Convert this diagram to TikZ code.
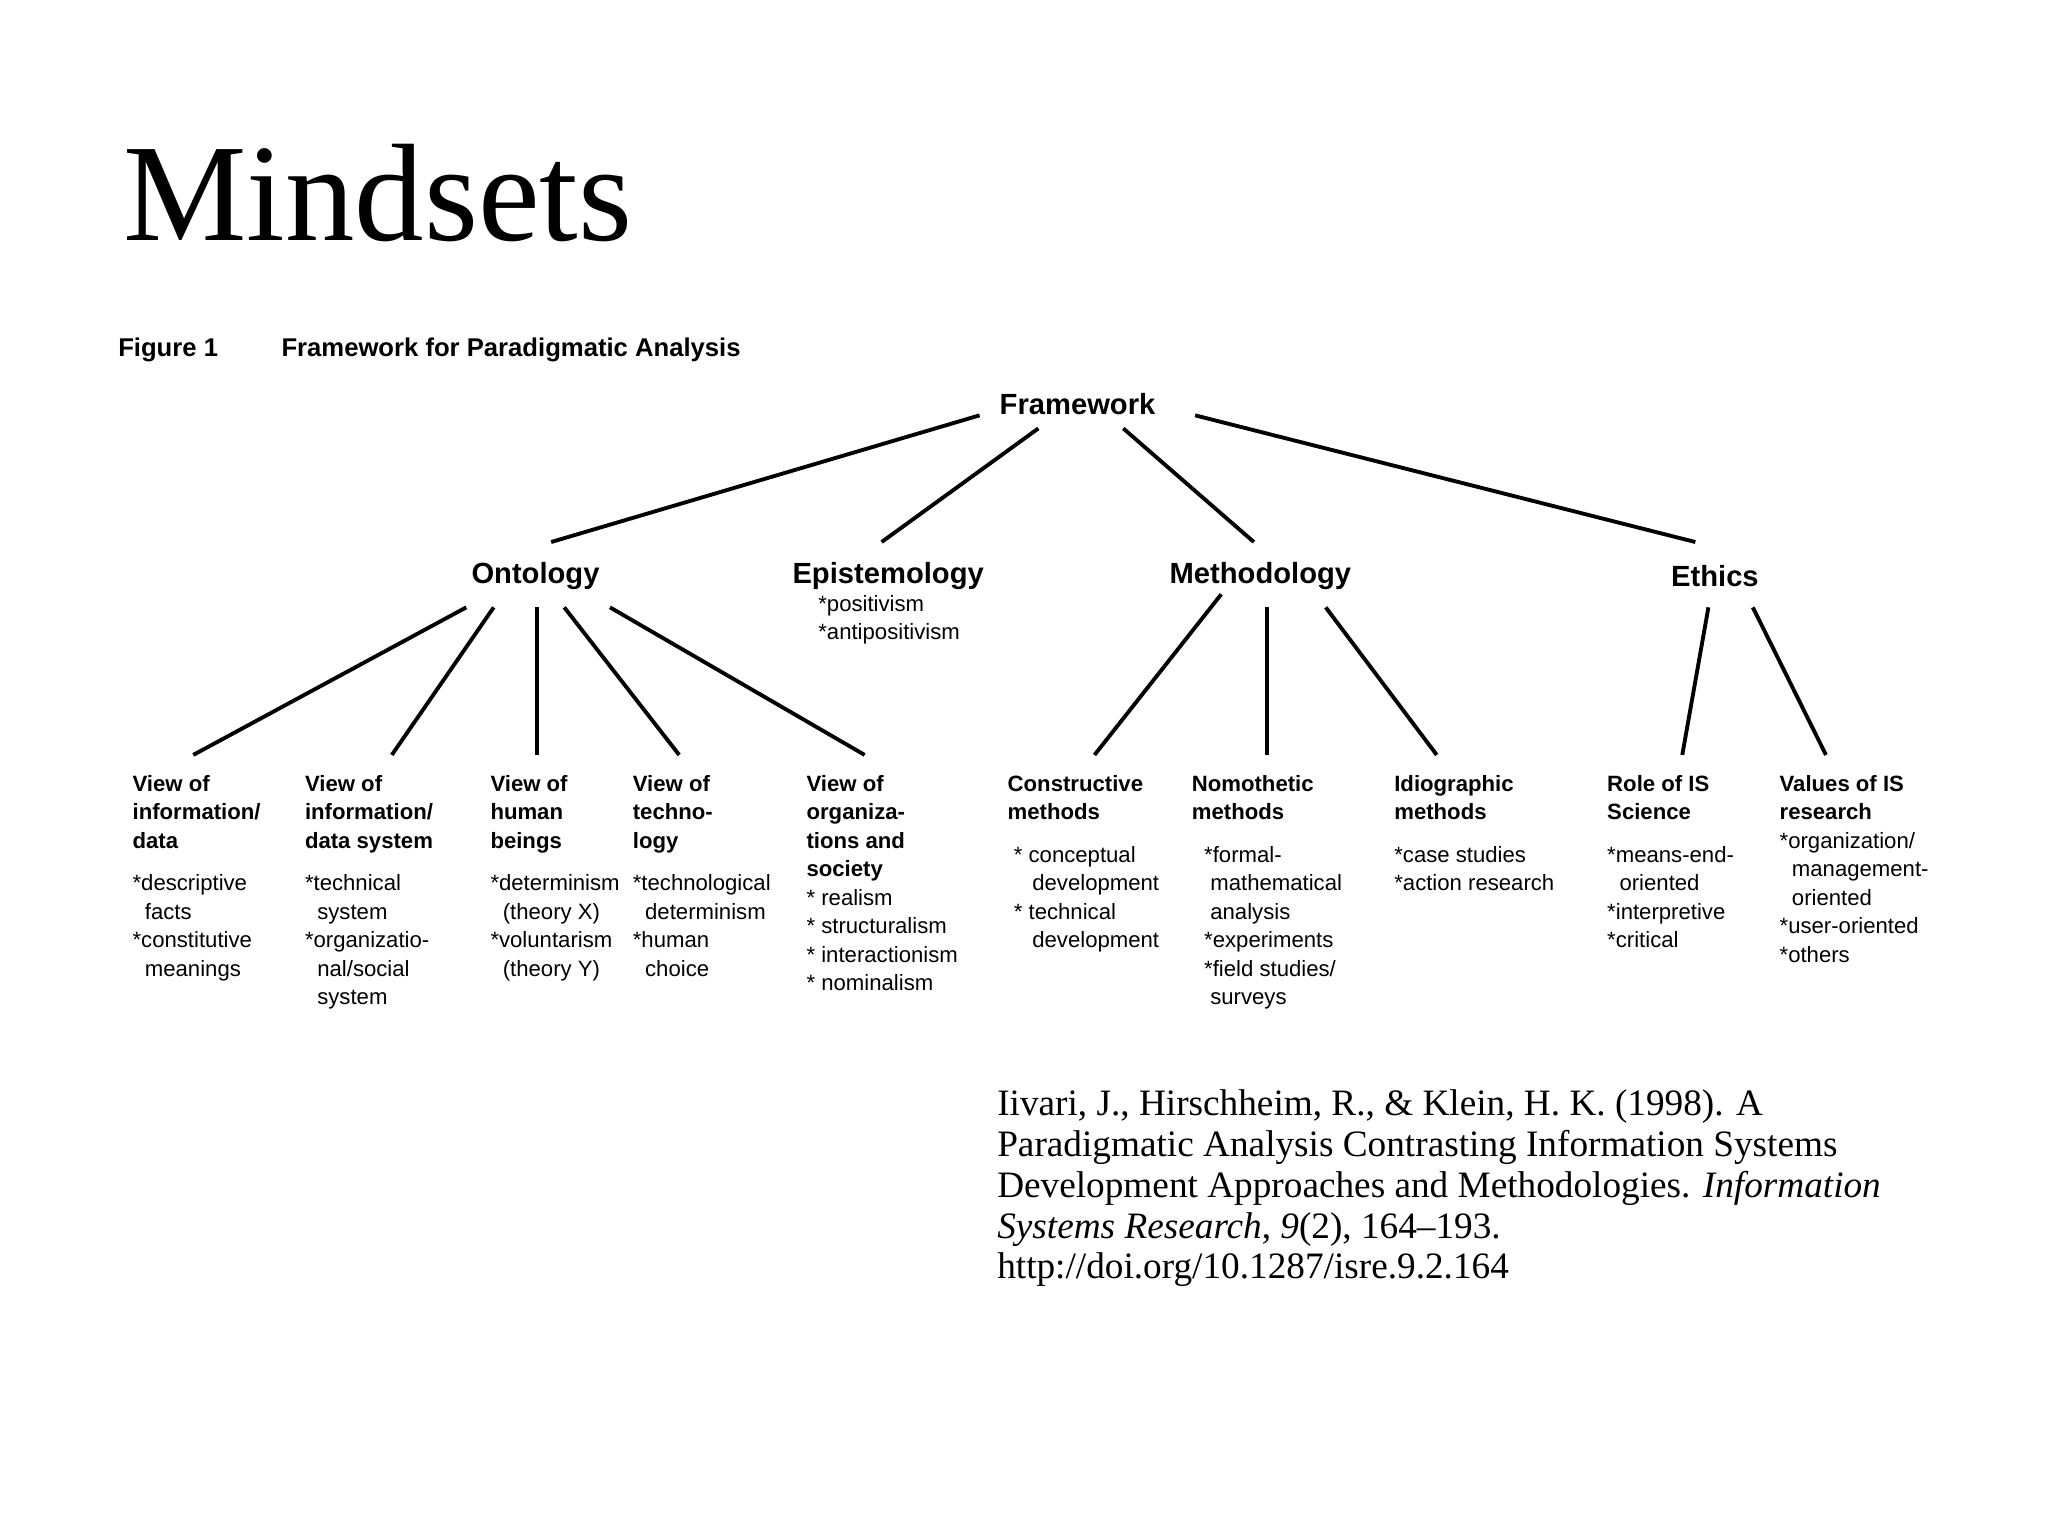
\documentclass[tikz,border=0pt]{standalone}
\usepackage{fontspec}
\setmainfont{Liberation Serif}
\newfontfamily\figsans{Liberation Sans}
\begin{document}
\begin{tikzpicture}[x=0.01306cm,y=-0.01306cm,
  conn/.style={line width=1.1pt},
  hd/.style={font=\figsans\bfseries\fontsize{8.3}{10}\selectfont,inner sep=0pt},
  leaf/.style={anchor=north west,align=left,inner sep=0pt,font=\figsans\fontsize{6.3}{8.1}\selectfont}]
\useasboundingbox[fill=white] (0,0) rectangle (1568,1176);
\node[anchor=west,inner sep=0pt,font=\fontsize{39.5}{42}\selectfont] (title) at (94,148) {Mindsets};
\node[anchor=west,inner sep=0pt,font=\figsans\bfseries\fontsize{7.3}{9}\selectfont] (fig) at (90,268) {Figure 1};
\node[anchor=west,inner sep=0pt,font=\figsans\bfseries\fontsize{7.3}{9}\selectfont] (figt) at (215,268) {Framework for Paradigmatic Analysis};
\node[hd] (fw) at (825,309) {Framework};
\node[hd] (ont) at (410,441) {Ontology};
\node[hd] (epi) at (680,441) {Epistemology};
\node[leaf] (epii) at (626,455) {*positivism\\*antipositivism};
\node[hd] (met) at (965,441) {Methodology};
\node[hd] (eth) at (1313,441) {Ethics};
% coordinates
\coordinate (f1) at (750,318); \coordinate (f2) at (795,328); \coordinate (f3) at (860,328); \coordinate (f4) at (915,318);
\coordinate (o0) at (422,415); \coordinate (e0) at (675,415); \coordinate (m0) at (960,415); \coordinate (t0) at (1298,415);
\draw[conn] (f1)--(o0); \draw[conn] (f2)--(e0); \draw[conn] (f3)--(m0); \draw[conn] (f4)--(t0);
\coordinate (o1) at (357,465); \coordinate (o2) at (378,465); \coordinate (o3) at (411,465); \coordinate (o4) at (432,465); \coordinate (o5) at (467,465);
\coordinate (l1) at (148,578); \coordinate (l2) at (300,578); \coordinate (l3) at (411,578); \coordinate (l4) at (520,578); \coordinate (l5) at (662,578);
\foreach \i in {1,...,5} \draw[conn] (o\i)--(l\i);
\coordinate (m1) at (935,455); \coordinate (m2) at (970,465); \coordinate (m3) at (1015,465);
\coordinate (l6) at (838,578); \coordinate (l7) at (970,578); \coordinate (l8) at (1100,578);
\draw[conn] (m1)--(l6); \draw[conn] (m2)--(l7); \draw[conn] (m3)--(l8);
\coordinate (t1) at (1308,465); \coordinate (t2) at (1342,465);
\coordinate (l9) at (1288,578); \coordinate (l10) at (1398,578);
\draw[conn] (t1)--(l9); \draw[conn] (t2)--(l10);
% leaves
\node[leaf] (v1) at (101,593) {\textbf{View of}\\\textbf{information/}\\\textbf{data}\\[4pt]*descriptive\\\ \ facts\\*constitutive\\\ \ meanings};
\node[leaf] (v2) at (233,593) {\textbf{View of}\\\textbf{information/}\\\textbf{data system}\\[4pt]*technical\\\ \ system\\*organizatio-\\\ \ nal/social\\\ \ system};
\node[leaf] (v3) at (375,593) {\textbf{View of}\\\textbf{human}\\\textbf{beings}\\[4pt]*determinism\\\ \ (theory X)\\*voluntarism\\\ \ (theory Y)};
\node[leaf] (v4) at (484,593) {\textbf{View of}\\\textbf{techno-}\\\textbf{logy}\\[4pt]*technological\\\ \ determinism\\*human\\\ \ choice};
\node[leaf] (v5) at (617,593) {\textbf{View of}\\\textbf{organiza-}\\\textbf{tions and}\\\textbf{society}\\* realism\\* structuralism\\* interactionism\\* nominalism};
\node[leaf] (v6) at (771,593) {\textbf{Constructive}\\\textbf{methods}\\[4pt]\ * conceptual\\\ \ \ \ development\\\ * technical\\\ \ \ \ development};
\node[leaf] (v7) at (912,593) {\textbf{Nomothetic}\\\textbf{methods}\\[4pt]\ \ *formal-\\\ \ \ mathematical\\\ \ \ analysis\\\ \ *experiments\\\ \ *field studies/\\\ \ \ surveys};
\node[leaf] (v8) at (1067,593) {\textbf{Idiographic}\\\textbf{methods}\\[4pt]*case studies\\*action research};
\node[leaf] (v9) at (1230,593) {\textbf{Role of IS}\\\textbf{Science}\\[4pt]*means-end-\\\ \ oriented\\*interpretive\\*critical};
\node[leaf] (v10) at (1362,593) {\textbf{Values of IS}\\\textbf{research}\\*organization/\\\ \ management-\\\ \ oriented\\*user-oriented\\*others};
\node[anchor=north west,align=left,inner sep=0pt,font=\fontsize{10.6}{11.6}\selectfont] (cite) at (763,834) {Iivari, J., Hirschheim, R., \& Klein, H. K. (1998). A\\Paradigmatic Analysis Contrasting Information Systems\\Development Approaches and Methodologies. \textit{Information}\\\textit{Systems Research}, \textit{9}(2), 164--193.\\http://doi.org/10.1287/isre.9.2.164};
\end{tikzpicture}
\end{document}
